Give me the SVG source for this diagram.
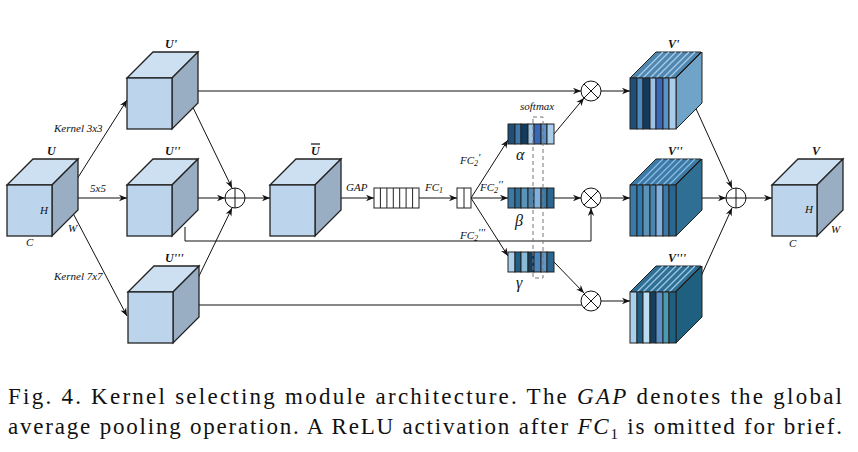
<svg xmlns="http://www.w3.org/2000/svg" width="858" height="452" viewBox="0 0 858 452">
<style>
.f{fill:#bdd5ec;stroke:#222;stroke-width:1.3}
.t{fill:#cde0f2;stroke:#222;stroke-width:1.3}
.s{fill:#9aaec3;stroke:#222;stroke-width:1.3}
.ln{fill:none;stroke:#111;stroke-width:1}
.it{font-family:"Liberation Serif",serif;font-style:italic;font-size:11px;fill:#111}
.gr{font-family:"Liberation Serif",serif;font-style:italic;font-size:16px;fill:#111}
.lb{font-family:"Liberation Serif",serif;font-style:italic;font-weight:bold;font-size:12px;fill:#111}
.cap{font-family:"Liberation Serif",serif;font-size:23px;fill:#111}
.op{fill:#fff;stroke:#111;stroke-width:1}
.cell{stroke:#222;stroke-width:1}
</style>
<defs>
<marker id="a" viewBox="0 0 10 10" refX="10" refY="5" markerWidth="8" markerHeight="8" orient="auto"><path d="M0,1 L10,5 L0,9 L3,5 z" fill="#111"/></marker>
<g id="cube"><path class="t" d="M0,0 l26,-26 h45 l-26,26 z"/><path class="s" d="M45,0 l26,-26 v51 l-26,26 z"/><rect class="f" x="0" y="0" width="45" height="51"/></g>
<g id="plus"><circle class="op" r="10"/><path class="ln" d="M-10,0 H10 M0,-10 V10"/></g>
<g id="times"><circle class="op" r="10"/><path class="ln" d="M-7,-7 L7,7 M-7,7 L7,-7"/></g>
</defs>

<g id="connectors" class="ln">
<path d="M65,198 L127,100" marker-end="url(#a)"/>
<path d="M65,198 L127,198" marker-end="url(#a)"/>
<path d="M65,198 L127,316" marker-end="url(#a)"/>
<path d="M185,91 L232,188" marker-end="url(#a)"/>
<path d="M185,198 L225,198" marker-end="url(#a)"/>
<path d="M185,305 L232,208" marker-end="url(#a)"/>
<path d="M245,198 L270,198" marker-end="url(#a)"/>
<path d="M185,91 H581" marker-end="url(#a)"/>
<path d="M185,227 V241 H591 V208" marker-end="url(#a)"/>
<path d="M185,305 H582 L584,302" />
<path d="M330,198 H374" marker-end="url(#a)"/>
<path d="M419,198 H457" marker-end="url(#a)"/>
<path d="M471,198 L508,140" marker-end="url(#a)"/>
<path d="M471,198 H508" marker-end="url(#a)"/>
<path d="M471,198 L508,256" marker-end="url(#a)"/>
<path d="M554,134 L584,98" marker-end="url(#a)"/>
<path d="M554,198 H581" marker-end="url(#a)"/>
<path d="M554,262 L584,293" marker-end="url(#a)"/>
<path d="M601,91 H630" marker-end="url(#a)"/>
<path d="M601,198 H630" marker-end="url(#a)"/>
<path d="M601,301 H630" marker-end="url(#a)"/>
<path d="M688,91 L732,188" marker-end="url(#a)"/>
<path d="M688,198 L726,198" marker-end="url(#a)"/>
<path d="M688,305 L732,208" marker-end="url(#a)"/>
<path d="M746,198 H772" marker-end="url(#a)"/>
</g>

<g id="U"><use href="#cube" x="7" y="185"/><text class="lb" x="47" y="155">U</text><text class="it" x="40" y="214">H</text><text class="it" x="68" y="232">W</text><text class="it" x="26" y="246">C</text></g>
<g id="U1"><use href="#cube" x="127" y="78"/><text class="lb" x="165" y="48">U'</text></g>
<g id="U2"><use href="#cube" x="127" y="185"/><text class="lb" x="165" y="155">U''</text></g>
<g id="U3"><use href="#cube" x="128" y="292"/><text class="lb" x="165" y="262">U'''</text></g>
<g id="labels-k"><text class="it" x="54" y="132">Kernel 3x3</text><text class="it" x="90" y="192">5x5</text><text class="it" x="54" y="280">Kernel 7x7</text></g>
<g id="sum1"><use href="#plus" x="235" y="198"/></g>
<g id="Ubar"><use href="#cube" x="270" y="185"/><text class="lb" x="311" y="155">U</text><path d="M311,144 h9" stroke="#111" stroke-width="1.2"/></g>
<g id="gap"><text class="it" x="346" y="191">GAP</text>
<rect x="374" y="188" width="45" height="20" fill="#fff" stroke="#222"/>
<path d="M380.4,188v20M386.9,188v20M393.3,188v20M399.7,188v20M406.1,188v20M412.6,188v20" stroke="#222"/></g>
<g id="fc1"><text class="it" x="425" y="191">FC<tspan font-size="8" dy="2">1</tspan></text>
<rect x="457" y="188" width="14" height="20" fill="#fff" stroke="#222"/><path d="M464,188v20" stroke="#222"/></g>
<g id="fc2labels"><text class="it" x="460" y="164">FC<tspan font-size="8" dy="2">2</tspan><tspan dy="-5">'</tspan></text>
<text class="it" x="480" y="191">FC<tspan font-size="8" dy="2">2</tspan><tspan dy="-5">''</tspan></text>
<text class="it" x="460" y="239">FC<tspan font-size="8" dy="2">2</tspan><tspan dy="-5">'''</tspan></text></g>
<g id="alpha">
<rect class="cell" x="508" y="124" width="7" height="20" fill="#1f4f78"/><rect class="cell" x="515" y="124" width="6" height="20" fill="#3b78ad"/><rect class="cell" x="521" y="124" width="7" height="20" fill="#163a5c"/><rect class="cell" x="528" y="124" width="6" height="20" fill="#9cc3e4"/><rect class="cell" x="534" y="124" width="7" height="20" fill="#3a68b8"/><rect class="cell" x="541" y="124" width="6" height="20" fill="#5b93c8"/><rect class="cell" x="547" y="124" width="7" height="20" fill="#a9cdea"/>
<text class="gr" x="516" y="160">α</text></g>
<g id="beta">
<rect class="cell" x="508" y="188" width="7" height="20" fill="#3b7aa6"/><rect class="cell" x="515" y="188" width="6" height="20" fill="#2f6e99"/><rect class="cell" x="521" y="188" width="7" height="20" fill="#5b93b8"/><rect class="cell" x="528" y="188" width="6" height="20" fill="#4b86b0"/><rect class="cell" x="534" y="188" width="7" height="20" fill="#7fb0df"/><rect class="cell" x="541" y="188" width="6" height="20" fill="#3a7aa8"/><rect class="cell" x="547" y="188" width="7" height="20" fill="#2a6690"/>
<text class="gr" x="515" y="226">β</text></g>
<g id="gamma">
<rect class="cell" x="508" y="252" width="7" height="20" fill="#a9d0ea"/><rect class="cell" x="515" y="252" width="6" height="20" fill="#1f6088"/><rect class="cell" x="521" y="252" width="7" height="20" fill="#8ab9d6"/><rect class="cell" x="528" y="252" width="6" height="20" fill="#173e5c"/><rect class="cell" x="534" y="252" width="7" height="20" fill="#4a86c0"/><rect class="cell" x="541" y="252" width="6" height="20" fill="#5f98c8"/><rect class="cell" x="547" y="252" width="7" height="20" fill="#2a6690"/>
<text class="gr" x="516" y="288">γ</text></g>
<g id="softmax"><text class="it" x="520" y="110">softmax</text><rect x="533" y="117" width="10" height="161" fill="none" stroke="#777" stroke-dasharray="4,3"/></g>
<g id="mul1"><use href="#times" x="591" y="91"/></g>
<g id="mul2"><use href="#times" x="591" y="198"/></g>
<g id="mul3"><use href="#times" x="591" y="301"/></g>
<g id="V1">
<path d="M630,78 l26,-26 h45 l-26,26 z" fill="#4f87b0" stroke="#222"/>
<path d="M637,78 l26,-26 M643,78 l26,-26 M650,78 l26,-26 M656,78 l26,-26 M663,78 l26,-26 M669,78 l26,-26" stroke="#a9cde8" stroke-width="1.3"/>
<path d="M676,78 l26,-26 v51 l-26,26 z" fill="#6fa4c8" stroke="#222"/>
<rect class="cell" x="630" y="78" width="7" height="51" fill="#1f4f78"/><rect class="cell" x="637" y="78" width="6" height="51" fill="#4a8bc2"/><rect class="cell" x="643" y="78" width="7" height="51" fill="#163a5c"/><rect class="cell" x="650" y="78" width="6" height="51" fill="#9cc3e4"/><rect class="cell" x="656" y="78" width="7" height="51" fill="#3a68b8"/><rect class="cell" x="663" y="78" width="6" height="51" fill="#5b93c8"/><rect class="cell" x="669" y="78" width="7" height="51" fill="#a9cdea"/>
<text class="lb" x="668" y="48">V'</text></g>
<g id="V2">
<path d="M630,185 l26,-26 h45 l-26,26 z" fill="#3b7aa6" stroke="#222"/>
<path d="M637,185 l26,-26 M643,185 l26,-26 M650,185 l26,-26 M656,185 l26,-26 M663,185 l26,-26 M669,185 l26,-26" stroke="#8cbbe0" stroke-width="1.3"/>
<path d="M676,185 l26,-26 v51 l-26,26 z" fill="#2f6f94" stroke="#222"/>
<rect class="cell" x="630" y="185" width="7" height="51" fill="#3b7aa6"/><rect class="cell" x="637" y="185" width="6" height="51" fill="#2f7ab0"/><rect class="cell" x="643" y="185" width="7" height="51" fill="#5b93b8"/><rect class="cell" x="650" y="185" width="6" height="51" fill="#4b86b0"/><rect class="cell" x="656" y="185" width="7" height="51" fill="#7fb0df"/><rect class="cell" x="663" y="185" width="6" height="51" fill="#3a7aa8"/><rect class="cell" x="669" y="185" width="7" height="51" fill="#2a6690"/>
<text class="lb" x="668" y="155">V''</text></g>
<g id="V3">
<path d="M630,292 l26,-26 h45 l-26,26 z" fill="#2f6f94" stroke="#222"/>
<path d="M637,292 l26,-26 M643,292 l26,-26 M650,292 l26,-26 M656,292 l26,-26 M663,292 l26,-26 M669,292 l26,-26" stroke="#9cc8e4" stroke-width="1.3"/>
<path d="M676,292 l26,-26 v51 l-26,26 z" fill="#1f5f80" stroke="#222"/>
<rect class="cell" x="630" y="292" width="7" height="51" fill="#a9d0ea"/><rect class="cell" x="637" y="292" width="6" height="51" fill="#1f6088"/><rect class="cell" x="643" y="292" width="7" height="51" fill="#bcdcef"/><rect class="cell" x="650" y="292" width="6" height="51" fill="#173e5c"/><rect class="cell" x="656" y="292" width="7" height="51" fill="#5a90c6"/><rect class="cell" x="663" y="292" width="6" height="51" fill="#4a9ab0"/><rect class="cell" x="669" y="292" width="7" height="51" fill="#1f5f80"/>
<text class="lb" x="668" y="262">V'''</text></g>
<g id="sum2"><use href="#plus" x="736" y="198"/></g>
<g id="V"><use href="#cube" x="772" y="185"/><text class="lb" x="812" y="155">V</text><text class="it" x="805" y="213">H</text><text class="it" x="831" y="233">W</text><text class="it" x="789" y="247">C</text></g>
<g id="caption">
<text class="cap" x="8" y="404" textLength="834" lengthAdjust="spacing">Fig. 4.   Kernel selecting module architecture. The <tspan font-style="italic">GAP</tspan> denotes the global</text>
<text class="cap" x="8" y="434" textLength="834" lengthAdjust="spacing">average pooling operation. A ReLU activation after <tspan font-style="italic">FC</tspan><tspan font-size="15" dy="5">1</tspan><tspan dy="-5"> is omitted for brief.</tspan></text>
</g>
</svg>
